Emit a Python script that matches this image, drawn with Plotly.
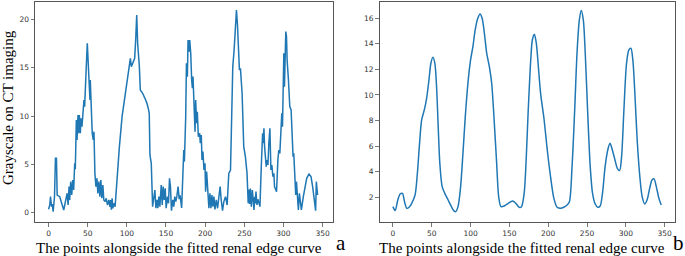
import plotly.graph_objects as go

# Panel a: raw grayscale along the fitted renal edge curve
a_x = [0.0, 1.6, 2.5, 3.8, 4.6, 5.9, 7.6, 8.8, 10.1, 11.0, 14.3, 16.9, 19.4, 22.0, 23.7, 25.0,
       26.2, 27.0, 28.3, 29.6, 30.9, 32.1, 33.4, 34.2, 35.5, 36.4, 37.6, 38.5, 39.3, 40.6, 41.4,
       42.7, 44.0, 45.2, 46.1, 46.9, 48.2, 49.5, 50.7, 52.0, 52.9, 53.3, 54.6, 55.8, 57.1, 58.0,
       59.2, 60.5, 61.8, 63.0, 64.3, 65.6, 66.8, 68.1, 69.4, 70.6, 72.3, 73.6, 75.3, 77.0, 78.5,
       79.3, 80.2, 81.2, 82.1, 83.4, 85.0, 87.2, 90.5, 93.9, 97.3, 101.1, 103.2, 104.5, 105.8,
       107.5, 110.0, 111.3, 112.6, 113.8, 116.0, 117.2, 120.2, 123.1, 125.7, 127.8, 128.6, 129.5,
       131.2, 132.9, 134.2, 135.8, 137.1, 138.4, 139.6, 140.9, 142.2, 143.9, 145.2, 146.4, 147.7,
       149.0, 150.2, 151.9, 153.2, 154.5, 155.7, 157.0, 158.7, 160.0, 161.2, 162.5, 163.8, 165.5,
       166.8, 168.0, 170.0, 171.8, 172.7, 173.5, 175.2, 176.1, 177.3, 178.2, 179.4, 180.3, 181.6,
       182.8, 183.7, 184.5, 185.8, 187.1, 187.9, 189.2, 190.0, 191.3, 193.0, 193.8, 195.1, 196.0,
       197.2, 198.5, 199.8, 200.6, 201.9, 203.2, 204.8, 206.1, 207.4, 208.7, 209.9, 211.2, 212.5,
       214.2, 215.9, 217.6, 219.2, 220.5, 222.2, 223.9, 226.0, 228.1, 229.4, 230.2, 232.4, 233.6,
       235.3, 237.0, 238.7, 240.0, 241.3, 243.0, 243.8, 245.1, 247.2, 249.3, 251.4, 253.5, 255.0,
       256.3, 257.0, 257.8, 259.0, 260.3, 261.5, 262.4, 263.2, 264.1, 264.9, 266.2, 267.4, 268.7,
       270.0, 271.7, 273.4, 274.2, 275.1, 275.9, 276.8, 278.0, 279.3, 280.2, 281.4, 282.7, 284.0,
       285.2, 286.5, 287.8, 288.6, 289.9, 291.2, 292.9, 294.1, 295.4, 296.7, 297.9, 298.8, 299.6,
       300.5, 301.3, 302.2, 303.0, 303.9, 304.7, 306.4, 308.1, 309.8, 311.1, 312.3, 313.2, 314.4,
       315.7, 316.6, 317.8, 319.1, 320.4, 321.6, 322.9, 325.4, 327.6, 329.7, 332.6, 335.2, 337.3,
       339.4, 341.1, 342.0, 342.8, 343.6]
a_y = [0.35, 0.8, 1.66, 0.63, 0.9, 0.11, 1.66, 5.63, 5.63, 1.83, 1.66, 0.97, 0.28, 1.32, 2.0, 0.8,
       2.7, 1.32, 3.21, 1.83, 3.39, 2.35, 5.11, 4.5, 9.59, 7.52, 10.11, 8.21, 10.11, 8.21, 9.76,
       8.9, 9.94, 11.66, 10.97, 13.38, 15.1, 17.52, 15.8, 13.38, 11.66, 13.73, 9.94, 8.21, 7.52, 8.38,
       4.07, 2.7, 3.56, 2.0, 3.21, 1.66, 3.39, 1.49, 2.87, 1.32, 1.15, 1.49, 0.8, 1.32, 0.6,
       1.3, 0.3, 1.49, 0.46, 0.97, 0.63, 3.39, 6.83, 9.94, 11.83, 13.55, 14.76, 15.97, 15.1,
       15.45, 15.97, 17.86, 20.45, 17.52, 15.1, 12.69, 12.35, 11.83, 11.31, 10.63, 10.28, 5.97,
       5.11, 0.63, 1.32, 2.35, 0.46, 1.32, 0.46, 1.66, 0.63, 2.87, 0.8, 2.7, 1.32,
       2.52, 0.46, 1.66, 0.97, 3.56, 2.7, 0.21, 1.32, 0.63, 1.66, 1.15, 1.66, 2.7,
       1.4, 1.8, 0.5, 5.45, 6.49, 5.28, 9.94, 15.45, 14.07, 17.86, 16.66, 17.86, 16.48,
       13.73, 12.87, 14.07, 10.28, 8.38, 11.66, 9.25, 10.45, 7.87, 8.21, 7.18, 8.04, 5.45,
       6.32, 4.42, 5.11, 2.18, 4.25, 2.35, 0.46, 2.0, 0.46, 1.83, 0.63, 1.66, 0.35,
       1.32, 0.46, 1.66, 2.7, 1.32, 0.21, 1.15, 1.66, 0.8, 3.73, 4.07, 4.42, 10.97,
       15.1, 16.83, 19.24, 20.97, 19.41, 16.83, 14.76, 14.93, 12.35, 6.83, 5.8, 4.07, 0.97,
       2.4, 0.9, 2.5, 0.63, 2.35, 1.15, 0.28, 1.66, 0.97, 2.18, 0.8, 1.39, 0.97,
       0.63, 4.77, 8.21, 7.18, 8.73, 6.83, 5.45, 4.77, 5.45, 4.94, 7.18, 8.73, 4.42,
       4.94, 3.73, 4.07, 2.7, 2.35, 2.18, 5.45, 6.49, 6.14, 8.21, 10.28, 8.9, 13.04,
       16.48, 13.04, 16.83, 18.73, 18.21, 15.8, 13.73, 10.97, 10.63, 7.18, 5.8, 6.14, 4.42,
       1.83, 3.21, 2.0, 0.28, 2.0, 0.97, 0.28, 1.66, 2.7, 3.56, 4.0, 3.73, 2.7,
       1.32, 0.21, 3.21, 2.0, 1.83]

# Panel b: smoothed grayscale
b_x = [0.0, 2.9, 6.3, 9.3, 12.3, 14.9, 17.8, 20.8, 24.2, 28.5, 31.5, 34.0, 37.0, 40.4, 43.4,
       46.4, 48.9, 51.5, 54.0, 56.2, 58.3, 60.4, 63.4, 66.8, 71.1, 75.3, 78.3, 80.8, 83.8, 86.8,
       90.2, 93.2, 96.6, 100.0, 103.0, 105.9, 109.3, 112.3, 114.9, 117.8, 120.8, 124.2, 127.2,
       130.6, 133.6, 136.2, 139.2, 143.4, 148.5, 154.1, 158.3, 162.6, 165.6, 169.0, 171.6, 174.1,
       177.5, 179.6, 182.2, 184.7, 187.3, 190.2, 194.5, 198.8, 203.0, 207.3, 211.5, 215.8, 220.0,
       224.3, 227.3, 230.7, 234.1, 237.1, 240.1, 242.6, 245.2, 247.7, 250.7, 254.1, 257.1, 260.5,
       263.9, 266.9, 269.9, 273.3, 276.7, 279.6, 282.6, 286.0, 289.0, 292.0, 294.5, 297.5, 300.9,
       303.9, 306.5, 309.0, 311.6, 314.6, 318.0, 321.0, 324.3, 327.3, 330.7, 333.7, 336.3, 339.2,
       342.6, 345.6]
b_y = [1.27, 0.96, 1.79, 2.26, 2.31, 1.66, 1.14, 1.22, 1.53, 2.18, 3.88, 5.96, 8.05, 8.83, 9.74,
       11.18, 12.48, 12.95, 12.48, 10.65, 7.53, 4.66, 2.84, 2.31, 1.79, 1.27, 0.96, 0.88, 1.27, 2.58,
       5.44, 8.31, 10.92, 12.74, 13.78, 15.08, 16.0, 16.34, 16.0, 14.82, 13.26, 12.22, 10.92,
       7.79, 4.66, 2.05, 1.27, 1.32, 1.53, 1.71, 1.53, 1.22, 1.27, 2.31, 4.92, 8.57,
       12.74, 14.3, 14.75, 14.04, 12.22, 10.13, 8.18, 5.7, 3.62, 1.92, 1.22, 1.14, 1.22,
       1.4, 1.66, 4.4, 8.83, 13.26, 15.87, 16.6, 15.87, 13.26, 8.83, 4.4, 2.31, 1.48,
       1.22, 1.32, 2.31, 4.4, 5.7, 6.22, 5.7, 4.92, 4.27, 4.09, 5.18, 8.83, 12.48,
       13.52, 13.65, 12.74, 10.13, 6.48, 3.62, 2.05, 1.48, 1.79, 2.71, 3.36, 3.44, 2.84,
       1.92, 1.4]

a_yticks = [0, 5, 10, 15, 20]
b_yticks = [2, 4, 6, 8, 10, 12, 14, 16]
x_ticks = [0, 50, 100, 150, 200, 250, 300, 350]
x_title = "The points alongside the fitted renal edge curve"
y_title = "Grayscale on CT imaging"
panel_labels = ["a", "b"]

W, H = 685, 256
LINE = "#1f77b4"
FRAME = "#555555"
TICKFONT = dict(family="DejaVu Sans", size=7.5, color="#333333")
SERIF = "Liberation Serif"

fig = go.Figure()
fig.add_trace(go.Scatter(x=a_x, y=a_y, mode="lines", line=dict(color=LINE, width=1.5),
                         xaxis="x", yaxis="y", showlegend=False, hoverinfo="skip"))
fig.add_trace(go.Scatter(x=b_x, y=b_y, mode="lines", line=dict(color=LINE, width=1.5, shape="spline", smoothing=0.8),
                         xaxis="x2", yaxis="y2", showlegend=False, hoverinfo="skip"))

ydom = [(256 - 222) / H, (256 - 2) / H]
common_axis = dict(showline=True, linecolor=FRAME, linewidth=1, mirror=True, ticks="outside",
                   ticklen=3.5, tickcolor=FRAME, tickwidth=0.8, showgrid=False, zeroline=False,
                   tickfont=TICKFONT)

fig.update_layout(
    width=W, height=H, margin=dict(l=0, r=0, t=0, b=0),
    paper_bgcolor="white", plot_bgcolor="white",
    xaxis=dict(domain=[35 / W, 333 / W], range=[-17.3, 363.3], tickvals=x_ticks, anchor="y", **common_axis),
    yaxis=dict(domain=ydom, range=[-0.96, 21.79], tickvals=a_yticks, anchor="x", **common_axis),
    xaxis2=dict(domain=[379.5 / W, 675 / W], range=[-17.3, 363.3], tickvals=x_ticks, anchor="y2", **common_axis),
    yaxis2=dict(domain=ydom, range=[0.07, 17.27], tickvals=b_yticks, anchor="x2", **common_axis),
)

ann = []
ann.append(dict(text=x_title, x=179 / W, y=(256 - 247.5) / H, xref="paper", yref="paper",
                showarrow=False, xanchor="center", yanchor="middle",
                font=dict(family=SERIF, size=15, color="#000000")))
ann.append(dict(text=x_title, x=521.5 / W, y=(256 - 247.5) / H, xref="paper", yref="paper",
                showarrow=False, xanchor="center", yanchor="middle",
                font=dict(family=SERIF, size=15, color="#000000")))
ann.append(dict(text=y_title, x=7.5 / W, y=(256 - 107.5) / H, xref="paper", yref="paper",
                showarrow=False, xanchor="center", yanchor="middle", textangle=-90,
                font=dict(family=SERIF, size=15, color="#000000")))
ann.append(dict(text=panel_labels[0], x=340.5 / W, y=0, xref="paper", yref="paper",
                showarrow=False, xanchor="center", yanchor="bottom", borderpad=0,
                font=dict(family=SERIF, size=21, color="#000000")))
ann.append(dict(text=panel_labels[1], x=678 / W, y=0, xref="paper", yref="paper",
                showarrow=False, xanchor="center", yanchor="bottom", borderpad=0,
                font=dict(family=SERIF, size=21, color="#000000")))
fig.update_layout(annotations=ann)

fig.write_html("out.html", config={"displayModeBar": False, "staticPlot": True},
               post_script="document.body.style.margin='0';document.body.style.overflow='hidden';")
